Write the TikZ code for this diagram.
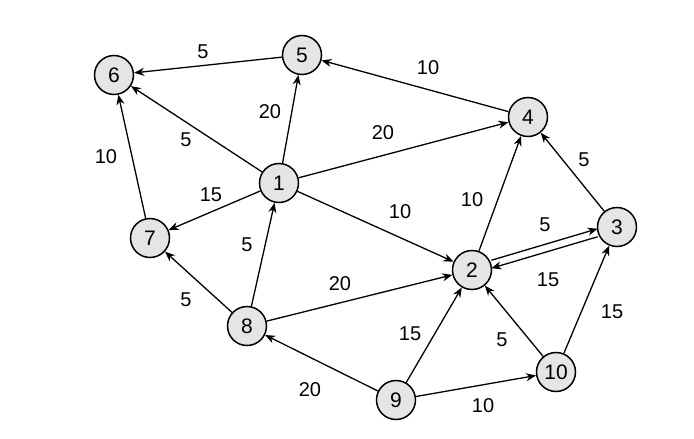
\documentclass[tikz,border=0pt]{standalone}
\usepackage{fontspec}
\setmainfont{Liberation Sans}
\usetikzlibrary{arrows.meta}
\begin{document}
\begin{tikzpicture}[x=1pt,y=-1pt,
  vtx/.style={circle,draw,line width=1.5pt,fill=gray!20,minimum size=39pt,inner sep=0pt,font=\fontsize{21}{21}\selectfont},
  edge/.style={-{Stealth[length=10pt,width=8pt]},line width=1.3pt},
  lab/.style={font=\fontsize{20}{20}\selectfont}]
\useasboundingbox (0,0) rectangle (694,439);
\node[vtx] (6) at (114,75) {6};
\node[vtx] (5) at (302,55) {5};
\node[vtx] (4) at (528,117) {4};
\node[vtx] (1) at (279,183) {1};
\node[vtx] (7) at (150,238) {7};
\node[vtx] (3) at (617,227) {3};
\node[vtx] (2) at (472,270) {2};
\node[vtx] (8) at (247,326) {8};
\node[vtx] (10) at (556,372) {10};
\node[vtx] (9) at (396,400) {9};
\draw[edge] (5) -- (6);
\draw[edge] (4) -- (5);
\draw[edge] (1) -- (6);
\draw[edge] (1) -- (5);
\draw[edge] (1) -- (4);
\draw[edge] (7) -- (6);
\draw[edge] (1) -- (7);
\draw[edge] (1) -- (2);
\draw[edge] (2) -- (4);
\draw[edge] (3) -- (4);
\draw[edge,transform canvas={yshift=4pt}] (2) -- (3);
\draw[edge,transform canvas={yshift=-4pt}] (3) -- (2);
\draw[edge] (8) -- (1);
\draw[edge] (8) -- (7);
\draw[edge] (8) -- (2);
\draw[edge] (9) -- (2);
\draw[edge] (10) -- (2);
\draw[edge] (10) -- (3);
\draw[edge] (9) -- (8);
\draw[edge] (9) -- (10);
\node[lab] (l56) at (203,52) {5};
\node[lab] (l45) at (428,68) {10};
\node[lab] (l16) at (186,140) {5};
\node[lab] (l15) at (270,112) {20};
\node[lab] (l14) at (383,133) {20};
\node[lab] (l76) at (106,157) {10};
\node[lab] (l17) at (211,195) {15};
\node[lab] (l12) at (400,212) {10};
\node[lab] (l24) at (472,200) {10};
\node[lab] (l34) at (584,160) {5};
\node[lab] (l23) at (545,225) {5};
\node[lab] (l32) at (548,280) {15};
\node[lab] (l81) at (247,245) {5};
\node[lab] (l87) at (186,300) {5};
\node[lab] (l82) at (340,284) {20};
\node[lab] (l92) at (410,334) {15};
\node[lab] (l102) at (502,340) {5};
\node[lab] (l103) at (612,312) {15};
\node[lab] (l98) at (310,390) {20};
\node[lab] (l910) at (483,406) {10};
\end{tikzpicture}
\end{document}
